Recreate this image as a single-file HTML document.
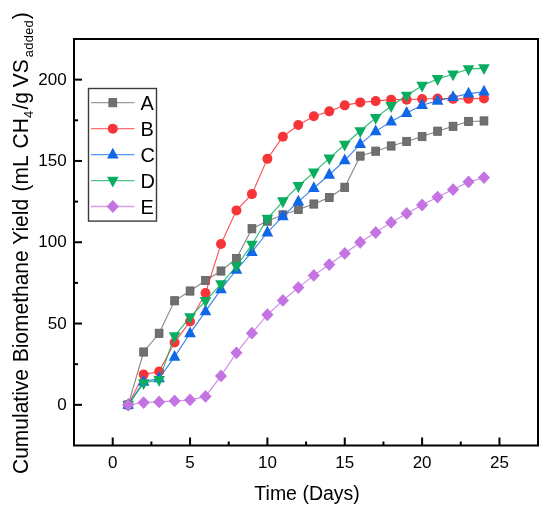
<!DOCTYPE html>
<html><head><meta charset="utf-8"><style>
html,body{margin:0;padding:0;background:#fff;}
body{width:550px;height:511px;overflow:hidden;}
svg{display:block;font-family:"Liberation Sans",Arial,sans-serif;}
</style></head><body>
<svg width="550" height="511" viewBox="0 0 550 511">
<rect width="550" height="511" fill="#fff"/>
<g><g><polyline points="128.17,404.85 143.64,352 159.11,333.31 174.58,300.79 190.05,291.03 205.52,280.46 220.99,271.03 236.46,258.51 251.93,228.75 267.4,221.11 282.87,214.93 298.34,209.4 313.81,204.04 329.28,197.54 344.75,187.29 360.22,156.07 375.69,151.19 391.16,145.99 406.63,141.44 422.1,136.56 437.57,131.19 453.04,126.32 468.51,121.44 483.98,120.95" fill="none" stroke="#707070" stroke-width="1.1" stroke-opacity="0.85"/><rect x="124.27" y="400.75" width="7.8" height="8.2" fill="#707070" stroke="#5e5e5e" stroke-width="0.8"/><rect x="139.74" y="347.9" width="7.8" height="8.2" fill="#707070" stroke="#5e5e5e" stroke-width="0.8"/><rect x="155.21" y="329.21" width="7.8" height="8.2" fill="#707070" stroke="#5e5e5e" stroke-width="0.8"/><rect x="170.68" y="296.69" width="7.8" height="8.2" fill="#707070" stroke="#5e5e5e" stroke-width="0.8"/><rect x="186.15" y="286.93" width="7.8" height="8.2" fill="#707070" stroke="#5e5e5e" stroke-width="0.8"/><rect x="201.62" y="276.36" width="7.8" height="8.2" fill="#707070" stroke="#5e5e5e" stroke-width="0.8"/><rect x="217.09" y="266.93" width="7.8" height="8.2" fill="#707070" stroke="#5e5e5e" stroke-width="0.8"/><rect x="232.56" y="254.41" width="7.8" height="8.2" fill="#707070" stroke="#5e5e5e" stroke-width="0.8"/><rect x="248.03" y="224.65" width="7.8" height="8.2" fill="#707070" stroke="#5e5e5e" stroke-width="0.8"/><rect x="263.5" y="217.01" width="7.8" height="8.2" fill="#707070" stroke="#5e5e5e" stroke-width="0.8"/><rect x="278.97" y="210.83" width="7.8" height="8.2" fill="#707070" stroke="#5e5e5e" stroke-width="0.8"/><rect x="294.44" y="205.3" width="7.8" height="8.2" fill="#707070" stroke="#5e5e5e" stroke-width="0.8"/><rect x="309.91" y="199.94" width="7.8" height="8.2" fill="#707070" stroke="#5e5e5e" stroke-width="0.8"/><rect x="325.38" y="193.44" width="7.8" height="8.2" fill="#707070" stroke="#5e5e5e" stroke-width="0.8"/><rect x="340.85" y="183.19" width="7.8" height="8.2" fill="#707070" stroke="#5e5e5e" stroke-width="0.8"/><rect x="356.32" y="151.97" width="7.8" height="8.2" fill="#707070" stroke="#5e5e5e" stroke-width="0.8"/><rect x="371.79" y="147.09" width="7.8" height="8.2" fill="#707070" stroke="#5e5e5e" stroke-width="0.8"/><rect x="387.26" y="141.89" width="7.8" height="8.2" fill="#707070" stroke="#5e5e5e" stroke-width="0.8"/><rect x="402.73" y="137.34" width="7.8" height="8.2" fill="#707070" stroke="#5e5e5e" stroke-width="0.8"/><rect x="418.2" y="132.46" width="7.8" height="8.2" fill="#707070" stroke="#5e5e5e" stroke-width="0.8"/><rect x="433.67" y="127.09" width="7.8" height="8.2" fill="#707070" stroke="#5e5e5e" stroke-width="0.8"/><rect x="449.14" y="122.22" width="7.8" height="8.2" fill="#707070" stroke="#5e5e5e" stroke-width="0.8"/><rect x="464.61" y="117.34" width="7.8" height="8.2" fill="#707070" stroke="#5e5e5e" stroke-width="0.8"/><rect x="480.08" y="116.85" width="7.8" height="8.2" fill="#707070" stroke="#5e5e5e" stroke-width="0.8"/></g><g><polyline points="128.17,404.85 143.64,374.61 159.11,371.52 174.58,342.57 190.05,321.44 205.52,292.98 220.99,244.04 236.46,210.38 251.93,194.12 267.4,158.84 282.87,136.72 298.34,125.02 313.81,116.24 329.28,111.36 344.75,105.34 360.22,102.41 375.69,101.11 391.16,99.65 406.63,99.65 422.1,99 437.57,98.51 453.04,98.84 468.51,98.84 483.98,98.51" fill="none" stroke="#f73538" stroke-width="1.1" stroke-opacity="0.85"/><circle cx="128.17" cy="404.85" r="5" fill="#f73538"/><circle cx="143.64" cy="374.61" r="5" fill="#f73538"/><circle cx="159.11" cy="371.52" r="5" fill="#f73538"/><circle cx="174.58" cy="342.57" r="5" fill="#f73538"/><circle cx="190.05" cy="321.44" r="5" fill="#f73538"/><circle cx="205.52" cy="292.98" r="5" fill="#f73538"/><circle cx="220.99" cy="244.04" r="5" fill="#f73538"/><circle cx="236.46" cy="210.38" r="5" fill="#f73538"/><circle cx="251.93" cy="194.12" r="5" fill="#f73538"/><circle cx="267.4" cy="158.84" r="5" fill="#f73538"/><circle cx="282.87" cy="136.72" r="5" fill="#f73538"/><circle cx="298.34" cy="125.02" r="5" fill="#f73538"/><circle cx="313.81" cy="116.24" r="5" fill="#f73538"/><circle cx="329.28" cy="111.36" r="5" fill="#f73538"/><circle cx="344.75" cy="105.34" r="5" fill="#f73538"/><circle cx="360.22" cy="102.41" r="5" fill="#f73538"/><circle cx="375.69" cy="101.11" r="5" fill="#f73538"/><circle cx="391.16" cy="99.65" r="5" fill="#f73538"/><circle cx="406.63" cy="99.65" r="5" fill="#f73538"/><circle cx="422.1" cy="99" r="5" fill="#f73538"/><circle cx="437.57" cy="98.51" r="5" fill="#f73538"/><circle cx="453.04" cy="98.84" r="5" fill="#f73538"/><circle cx="468.51" cy="98.84" r="5" fill="#f73538"/><circle cx="483.98" cy="98.51" r="5" fill="#f73538"/></g><g><polyline points="128.17,404.85 143.64,381.76 159.11,378.35 174.58,356.88 190.05,333.31 205.52,311.36 220.99,289.4 236.46,269.73 251.93,252.01 267.4,232.49 282.87,216.4 298.34,201.6 313.81,188.1 329.28,174.77 344.75,160.46 360.22,144.04 375.69,131.36 391.16,121.6 406.63,112.98 422.1,105.18 437.57,100.79 453.04,97.21 468.51,93.63 483.98,91.68" fill="none" stroke="#1068e8" stroke-width="1.1" stroke-opacity="0.85"/><polygon points="128.17,397.95 133.97,408.75 122.37,408.75" fill="#1068e8"/><polygon points="143.64,374.86 149.44,385.66 137.84,385.66" fill="#1068e8"/><polygon points="159.11,371.45 164.91,382.25 153.31,382.25" fill="#1068e8"/><polygon points="174.58,349.98 180.38,360.78 168.78,360.78" fill="#1068e8"/><polygon points="190.05,326.41 195.85,337.21 184.25,337.21" fill="#1068e8"/><polygon points="205.52,304.46 211.32,315.25 199.72,315.25" fill="#1068e8"/><polygon points="220.99,282.5 226.79,293.3 215.19,293.3" fill="#1068e8"/><polygon points="236.46,262.83 242.26,273.63 230.66,273.63" fill="#1068e8"/><polygon points="251.93,245.11 257.73,255.91 246.13,255.91" fill="#1068e8"/><polygon points="267.4,225.59 273.2,236.39 261.6,236.39" fill="#1068e8"/><polygon points="282.87,209.5 288.67,220.3 277.07,220.3" fill="#1068e8"/><polygon points="298.34,194.7 304.14,205.5 292.54,205.5" fill="#1068e8"/><polygon points="313.81,181.2 319.61,192 308.01,192" fill="#1068e8"/><polygon points="329.28,167.87 335.08,178.67 323.48,178.67" fill="#1068e8"/><polygon points="344.75,153.56 350.55,164.36 338.95,164.36" fill="#1068e8"/><polygon points="360.22,137.14 366.02,147.94 354.42,147.94" fill="#1068e8"/><polygon points="375.69,124.46 381.49,135.26 369.89,135.26" fill="#1068e8"/><polygon points="391.16,114.7 396.96,125.5 385.36,125.5" fill="#1068e8"/><polygon points="406.63,106.08 412.43,116.88 400.83,116.88" fill="#1068e8"/><polygon points="422.1,98.28 427.9,109.08 416.3,109.08" fill="#1068e8"/><polygon points="437.57,93.89 443.37,104.69 431.77,104.69" fill="#1068e8"/><polygon points="453.04,90.31 458.84,101.11 447.24,101.11" fill="#1068e8"/><polygon points="468.51,86.73 474.31,97.53 462.71,97.53" fill="#1068e8"/><polygon points="483.98,84.78 489.78,95.58 478.18,95.58" fill="#1068e8"/></g><g><polyline points="128.17,404.85 143.64,383.22 159.11,379.81 174.58,336.07 190.05,317.05 205.52,300.79 220.99,284.2 236.46,266.15 251.93,244.69 267.4,218.67 282.87,201.27 298.34,185.99 313.81,172.33 329.28,158.35 344.75,144.53 360.22,131.03 375.69,117.86 391.16,105.99 406.63,95.58 422.1,85.67 437.57,79 453.04,74.28 468.51,69.08 483.98,68.11" fill="none" stroke="#08ad60" stroke-width="1.1" stroke-opacity="0.85"/><polygon points="128.17,411.75 133.97,400.95 122.37,400.95" fill="#08ad60"/><polygon points="143.64,390.12 149.44,379.32 137.84,379.32" fill="#08ad60"/><polygon points="159.11,386.71 164.91,375.91 153.31,375.91" fill="#08ad60"/><polygon points="174.58,342.97 180.38,332.17 168.78,332.17" fill="#08ad60"/><polygon points="190.05,323.95 195.85,313.15 184.25,313.15" fill="#08ad60"/><polygon points="205.52,307.69 211.32,296.89 199.72,296.89" fill="#08ad60"/><polygon points="220.99,291.1 226.79,280.3 215.19,280.3" fill="#08ad60"/><polygon points="236.46,273.05 242.26,262.25 230.66,262.25" fill="#08ad60"/><polygon points="251.93,251.59 257.73,240.79 246.13,240.79" fill="#08ad60"/><polygon points="267.4,225.57 273.2,214.77 261.6,214.77" fill="#08ad60"/><polygon points="282.87,208.17 288.67,197.37 277.07,197.37" fill="#08ad60"/><polygon points="298.34,192.89 304.14,182.09 292.54,182.09" fill="#08ad60"/><polygon points="313.81,179.23 319.61,168.43 308.01,168.43" fill="#08ad60"/><polygon points="329.28,165.25 335.08,154.45 323.48,154.45" fill="#08ad60"/><polygon points="344.75,151.43 350.55,140.63 338.95,140.63" fill="#08ad60"/><polygon points="360.22,137.93 366.02,127.13 354.42,127.13" fill="#08ad60"/><polygon points="375.69,124.76 381.49,113.96 369.89,113.96" fill="#08ad60"/><polygon points="391.16,112.89 396.96,102.09 385.36,102.09" fill="#08ad60"/><polygon points="406.63,102.48 412.43,91.68 400.83,91.68" fill="#08ad60"/><polygon points="422.1,92.57 427.9,81.77 416.3,81.77" fill="#08ad60"/><polygon points="437.57,85.9 443.37,75.1 431.77,75.1" fill="#08ad60"/><polygon points="453.04,81.18 458.84,70.38 447.24,70.38" fill="#08ad60"/><polygon points="468.51,75.98 474.31,65.18 462.71,65.18" fill="#08ad60"/><polygon points="483.98,75.01 489.78,64.21 478.18,64.21" fill="#08ad60"/></g><g><polyline points="128.17,404.85 143.64,402.57 159.11,401.92 174.58,400.95 190.05,399.97 205.52,396.39 220.99,375.91 236.46,352.82 251.93,333.14 267.4,314.77 282.87,300.46 298.34,287.62 313.81,275.42 329.28,264.53 344.75,253.47 360.22,242.25 375.69,232.49 391.16,222.41 406.63,213.47 422.1,205.01 437.57,197.05 453.04,189.57 468.51,181.93 483.98,177.54" fill="none" stroke="#c474e2" stroke-width="1.1" stroke-opacity="0.85"/><polygon points="128.17,398.45 134.27,404.85 128.17,411.25 122.07,404.85" fill="#c474e2"/><polygon points="143.64,396.17 149.74,402.57 143.64,408.97 137.54,402.57" fill="#c474e2"/><polygon points="159.11,395.52 165.21,401.92 159.11,408.32 153.01,401.92" fill="#c474e2"/><polygon points="174.58,394.55 180.68,400.95 174.58,407.35 168.48,400.95" fill="#c474e2"/><polygon points="190.05,393.57 196.15,399.97 190.05,406.37 183.95,399.97" fill="#c474e2"/><polygon points="205.52,389.99 211.62,396.39 205.52,402.79 199.42,396.39" fill="#c474e2"/><polygon points="220.99,369.51 227.09,375.91 220.99,382.31 214.89,375.91" fill="#c474e2"/><polygon points="236.46,346.42 242.56,352.82 236.46,359.22 230.36,352.82" fill="#c474e2"/><polygon points="251.93,326.74 258.03,333.14 251.93,339.54 245.83,333.14" fill="#c474e2"/><polygon points="267.4,308.37 273.5,314.77 267.4,321.17 261.3,314.77" fill="#c474e2"/><polygon points="282.87,294.06 288.97,300.46 282.87,306.86 276.77,300.46" fill="#c474e2"/><polygon points="298.34,281.22 304.44,287.62 298.34,294.02 292.24,287.62" fill="#c474e2"/><polygon points="313.81,269.02 319.91,275.42 313.81,281.82 307.71,275.42" fill="#c474e2"/><polygon points="329.28,258.13 335.38,264.53 329.28,270.93 323.18,264.53" fill="#c474e2"/><polygon points="344.75,247.07 350.85,253.47 344.75,259.87 338.65,253.47" fill="#c474e2"/><polygon points="360.22,235.85 366.32,242.25 360.22,248.65 354.12,242.25" fill="#c474e2"/><polygon points="375.69,226.09 381.79,232.49 375.69,238.89 369.59,232.49" fill="#c474e2"/><polygon points="391.16,216.01 397.26,222.41 391.16,228.81 385.06,222.41" fill="#c474e2"/><polygon points="406.63,207.07 412.73,213.47 406.63,219.87 400.53,213.47" fill="#c474e2"/><polygon points="422.1,198.61 428.2,205.01 422.1,211.41 416,205.01" fill="#c474e2"/><polygon points="437.57,190.65 443.67,197.05 437.57,203.45 431.47,197.05" fill="#c474e2"/><polygon points="453.04,183.17 459.14,189.57 453.04,195.97 446.94,189.57" fill="#c474e2"/><polygon points="468.51,175.53 474.61,181.93 468.51,188.33 462.41,181.93" fill="#c474e2"/><polygon points="483.98,171.14 490.08,177.54 483.98,183.94 477.88,177.54" fill="#c474e2"/></g></g>
<g stroke="#000" stroke-width="2" fill="none">
<rect x="74" y="39" width="464" height="406.5"/>
<line x1="112.7" y1="445.5" x2="112.7" y2="437.5"/>
<line x1="190.05" y1="445.5" x2="190.05" y2="437.5"/>
<line x1="267.4" y1="445.5" x2="267.4" y2="437.5"/>
<line x1="344.75" y1="445.5" x2="344.75" y2="437.5"/>
<line x1="422.1" y1="445.5" x2="422.1" y2="437.5"/>
<line x1="499.45" y1="445.5" x2="499.45" y2="437.5"/>
<line x1="151.38" y1="445.5" x2="151.38" y2="441.5"/>
<line x1="228.73" y1="445.5" x2="228.73" y2="441.5"/>
<line x1="306.07" y1="445.5" x2="306.07" y2="441.5"/>
<line x1="383.43" y1="445.5" x2="383.43" y2="441.5"/>
<line x1="460.77" y1="445.5" x2="460.77" y2="441.5"/>
<line x1="74" y1="404.85" x2="82" y2="404.85"/>
<line x1="74" y1="323.55" x2="82" y2="323.55"/>
<line x1="74" y1="242.25" x2="82" y2="242.25"/>
<line x1="74" y1="160.95" x2="82" y2="160.95"/>
<line x1="74" y1="79.65" x2="82" y2="79.65"/>
<line x1="74" y1="364.2" x2="78" y2="364.2"/>
<line x1="74" y1="282.9" x2="78" y2="282.9"/>
<line x1="74" y1="201.6" x2="78" y2="201.6"/>
<line x1="74" y1="120.3" x2="78" y2="120.3"/>
</g>
<g font-size="17" fill="#000"><text x="112.7" y="468" text-anchor="middle">0</text>
<text x="190.05" y="468" text-anchor="middle">5</text>
<text x="267.4" y="468" text-anchor="middle">10</text>
<text x="344.75" y="468" text-anchor="middle">15</text>
<text x="422.1" y="468" text-anchor="middle">20</text>
<text x="499.45" y="468" text-anchor="middle">25</text>
<text x="66.7" y="409.85" text-anchor="end">0</text>
<text x="66.7" y="328.55" text-anchor="end">50</text>
<text x="66.7" y="247.25" text-anchor="end">100</text>
<text x="66.7" y="165.95" text-anchor="end">150</text>
<text x="66.7" y="84.65" text-anchor="end">200</text></g>
<rect x="88.5" y="88.5" width="68" height="132.6" fill="#fff" stroke="#3a3a3a" stroke-width="1.4"/>
<line x1="91" y1="102.7" x2="134.5" y2="102.7" stroke="#707070" stroke-width="1.3" stroke-opacity="0.7"/>
<rect x="108.9" y="98.6" width="7.8" height="8.2" fill="#707070" stroke="#5e5e5e" stroke-width="0.8"/>
<text transform="translate(140.6,110) scale(0.95,1)" font-size="21">A</text>
<line x1="91" y1="128.65" x2="134.5" y2="128.65" stroke="#f73538" stroke-width="1.3" stroke-opacity="0.7"/>
<circle cx="112.8" cy="128.65" r="5" fill="#f73538"/>
<text transform="translate(140.6,135.95) scale(0.95,1)" font-size="21">B</text>
<line x1="91" y1="154.6" x2="134.5" y2="154.6" stroke="#1068e8" stroke-width="1.3" stroke-opacity="0.7"/>
<polygon points="112.8,147.7 118.6,158.5 107,158.5" fill="#1068e8"/>
<text transform="translate(140.6,161.9) scale(0.95,1)" font-size="21">C</text>
<line x1="91" y1="180.55" x2="134.5" y2="180.55" stroke="#08ad60" stroke-width="1.3" stroke-opacity="0.7"/>
<polygon points="112.8,187.45 118.6,176.65 107,176.65" fill="#08ad60"/>
<text transform="translate(140.6,187.85) scale(0.95,1)" font-size="21">D</text>
<line x1="91" y1="206.5" x2="134.5" y2="206.5" stroke="#c474e2" stroke-width="1.3" stroke-opacity="0.7"/>
<polygon points="112.8,200.1 118.9,206.5 112.8,212.9 106.7,206.5" fill="#c474e2"/>
<text transform="translate(140.6,213.8) scale(0.95,1)" font-size="21">E</text>
<text x="307.1" y="500.2" font-size="19.5" text-anchor="middle">Time (Days)</text>
<g transform="translate(28.2,0) rotate(-90) scale(0.972,1)" font-size="21.6" fill="#000">
<text x="-487.65" y="0">Cumulative</text>
<text x="-372.74" y="0">Biomethane</text>
<text x="-251.85" y="0">Yield</text>
<text x="-196.91" y="0">(mL</text>
<text x="-152.78" y="0">CH</text>
<text x="-121.3" y="4.9" font-size="13.17">4</text>
<text x="-112.76" y="0">/g</text>
<text x="-89.71" y="0">VS</text>
<text x="-58.85" y="4.9" font-size="13.17" letter-spacing="0.35">added</text>
<text x="-19.75" y="0">)</text>
</g>
</svg>
</body></html>
